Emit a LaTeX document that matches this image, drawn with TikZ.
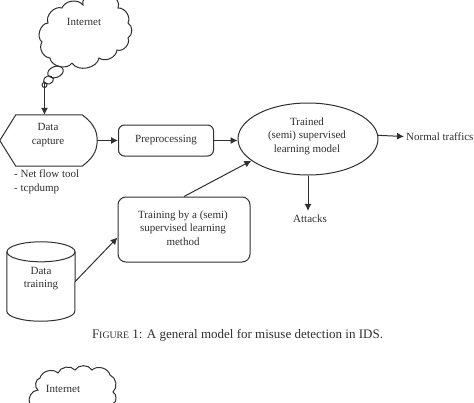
\documentclass[tikz,border=0pt]{standalone}
\usepackage{fontspec}
\setmainfont{Liberation Serif}
\usetikzlibrary{arrows.meta,shapes.geometric}
\definecolor{ink}{HTML}{303030}
\tikzset{
  line/.style={draw=ink,line width=1pt},
  arrowline/.style={line,-{Latex[length=7pt,width=7pt]}},
  txt/.style={text=ink,font=\fontsize{11}{13.5}\selectfont,align=center,inner sep=0pt},
  roundbox/.style={line,rounded corners=6pt,inner sep=0pt},
}
\begin{document}
\begin{tikzpicture}[x=1pt,y=-1pt]
\useasboundingbox (0,0) rectangle (474,402);
\clip (0,0) rectangle (474,402);
\fill[white] (0,0) rectangle (474,402);
% clouds
\draw[line,fill=white] (72,63) to[bend left=70] (50,58) to[bend left=60] (42,42)
  to[bend left=70] (48,23) to[bend left=65] (62,8) to[bend left=60] (83,5)
  to[bend left=60] (90,-4) to[bend left=60] (110,-4) to[bend left=60] (118,8)
  to[bend left=60] (128,23) to[bend left=60] (128,38) to[bend left=70] (117,50)
  to[bend left=60] (99,58) to[bend left=70] (72,63);
\draw[line,fill=white] (30,404) to[bend left=60] (38,390) to[bend left=70] (40,378)
  to[bend left=60] (58,373) to[bend left=60] (75,370) to[bend left=60] (92,370)
  to[bend left=60] (110,375) to[bend left=60] (113,392) to[bend left=60] (113,404);
\node[txt] (internet) at (84,22) {Internet};
\node[txt] (internetb) at (63,389) {Internet};
% thought bubbles
\node[line,ellipse,rotate=20,minimum width=16pt,minimum height=11pt,inner sep=0pt] (bubblea) at (55.5,72) {};
\node[line,ellipse,rotate=15,minimum width=10pt,minimum height=8pt,inner sep=0pt] (bubbleb) at (48.5,80) {};
\node[line,circle,minimum size=5pt,inner sep=0pt] (bubblec) at (44.5,85) {};
% data capture
\node[minimum width=97pt,minimum height=51pt,inner sep=0pt] (capture) at (48.5,140.5) {};
\draw[line] (capture.west) -- ([xshift=16pt]capture.north west) -- ([xshift=-15pt]capture.north east)
  .. controls ([xshift=-6pt,yshift=-7pt]capture.north east) and ([yshift=12pt]capture.east) .. (capture.east)
  .. controls ([yshift=-12pt]capture.east) and ([xshift=-6pt,yshift=7pt]capture.south east) .. ([xshift=-15pt]capture.south east)
  -- ([xshift=16pt]capture.south west) -- cycle;
\node[txt] (capturetext) at (48,135) {Data\\capture};
\node[txt,align=left,anchor=west] (tools) at (14,182) {- Net flow tool\\- tcpdump};
% boxes
\node[roundbox,minimum width=95pt,minimum height=31pt] (prep) at (166,140.5) {};
\node[txt] (preptext) at (166,140) {Preprocessing};
\node[roundbox,rounded corners=8pt,minimum width=132pt,minimum height=65pt] (train) at (184,229.5) {};
\node[txt] (traintext) at (183,228) {Training by a (semi)\\supervised learning\\method};
\node[line,ellipse,minimum width=140pt,minimum height=72pt,inner sep=0pt] (model) at (308,139) {};
\node[txt] (modeltext) at (307,136) {Trained\\(semi) supervised\\learning model};
\node[minimum width=68pt,minimum height=79pt,inner sep=0pt] (data) at (41,281.5) {};
\draw[line] ([yshift=-10pt]data.north) ellipse [x radius=34pt,y radius=10pt];
\draw[line] ([yshift=-10pt]data.north west) -- ([yshift=10pt]data.south west)
  arc[start angle=180,end angle=360,x radius=34pt,y radius=10pt] -- ([yshift=-10pt]data.north east);
\node[txt] (datatext) at (41,278.5) {Data\\training};
\node[txt,anchor=west] (normal) at (406,136.5) {Normal traffics};
\node[txt] (attacks) at (310,219) {Attacks};
\node[txt,font=\fontsize{13}{14}\selectfont] (caption) at (237.5,335) {F{\fontsize{9.8}{14}\selectfont IGURE} 1: A general model for misuse detection in IDS.};
% connectors
\draw[arrowline] (bubblec.north) -- (bubblec.north |- capture.north);
\draw[arrowline] (capture.east) -- (prep.west);
\draw[arrowline] (prep.east) -- (model.west |- prep.east);
\draw[arrowline] (data.east) -- ([yshift=-8pt]train.west);
\draw[arrowline] (train.north) -- (model.201);
\draw[arrowline] (model.3) -- ([xshift=-2pt]normal.west);
\draw[arrowline] (model.south) -- ([yshift=4pt]model.south |- attacks.north);
\end{tikzpicture}
\end{document}
